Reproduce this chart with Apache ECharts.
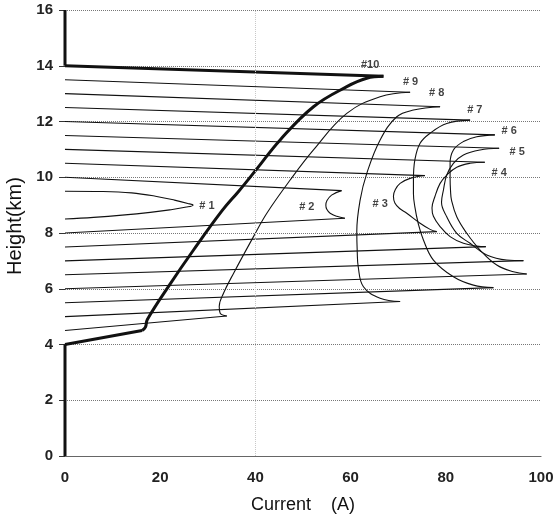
<!DOCTYPE html>
<html><head><meta charset="utf-8">
<script src="https://cdn.jsdelivr.net/npm/echarts@6/dist/echarts.min.js"></script>
<style>html,body{margin:0;padding:0;background:#fff}#c{width:557px;height:519px}</style>
</head><body><div id="c"></div>
<script>
// Start heights (x = 0) of upper and lower branches for curves #1..#10
const topStartY = [9.5, 10, 10.5, 11, 11.5, 12, 12.5, 13, 13.5, 14];
const botStartY = [8.5, 8, 7.5, 7, 6.5, 6, 5.5, 5, 4.5, 4];

// Curved parts (from upper tip to lower tip), [current A, height km]
const curve1 = [[0,9.5],[8,9.49],[14,9.44],[19,9.32],[23,9.18],[25.8,9.06],[26.9,9.0],[25.5,8.93],[22,8.83],[17.9,8.74],[12,8.64],[6,8.56],[0,8.5]];
const curve2 = [[58.1,9.52],[56,9.36],[55,9.15],[54.8,9.0],[55,8.85],[55.7,8.71],[57.1,8.6],[58.8,8.53]];
const curve3 = [[75.6,10.06],[72.5,9.96],[70.4,9.78],[69.4,9.56],[69.0,9.32],[69.3,9.08],[70.3,8.88],[71.8,8.71],[74.6,8.35],[76.7,8.13],[78.1,8.05]];
const curve4 = [[88.2,10.54],[85.1,10.5],[82.3,10.36],[80.2,10.08],[78.8,9.78],[77.7,9.3],[77.1,8.9],[77.4,8.6],[78.8,8.23],[80.9,7.87],[83.7,7.63],[86.5,7.53],[88.4,7.51]];
const curve5 = [[91.2,11.04],[87.2,10.98],[83.7,10.8],[81.6,10.5],[80.2,10.08],[79.5,9.54],[79.1,9.1],[80.2,8.58],[82.3,7.99],[85.1,7.63],[88.6,7.21],[92.8,7.03],[96.3,7.01]];
const curve6 = [[90.3,11.52],[86.5,11.45],[83.7,11.28],[81.6,10.98],[80.9,10.5],[80.9,10.0],[81.0,9.5],[81.2,9.18],[82.3,8.58],[84.4,7.99],[87.2,7.39],[90.7,6.85],[94.2,6.61],[97,6.53]];
const curve7 = [[85.1,12.05],[80.2,11.93],[76.7,11.58],[74.6,11.22],[73.5,10.62],[73.2,9.9],[73.2,9.42],[73.5,8.94],[74.2,8.35],[75.3,7.75],[77.4,7.03],[81.6,6.43],[85.8,6.13],[90,6.04]];
const curve8 = [[78.8,12.53],[73.2,12.41],[69.7,12.17],[66.2,11.34],[63.4,10.14],[62,9.18],[61.3,8.05],[61.4,7.3],[61.6,6.79],[62.7,6.07],[66.2,5.66],[70.4,5.54]];
const curve9 = [[72.5,13.05],[66.2,12.89],[59.2,12.29],[52.2,10.98],[47.3,9.9],[42.4,8.71],[39.6,7.87],[35.4,6.55],[33.3,5.84],[32.4,5.36],[32.6,5.12],[34,5.02]];
const curve10 = [[66.9,13.62],[63.4,13.55],[59.2,13.25],[52.2,12.53],[45.2,11.34],[40.3,10.3],[36.5,9.5],[33,8.8],[27,7.39],[22,6.15],[17.3,4.9],[16.9,4.62],[16.2,4.5]];
// thick vertical pieces along x = 0
const baseBottom = [[0,0],[0,4]];
const baseTop = [[0,14],[0,16]];

// Curve labels
const labelText = ['# 1','# 2','# 3','# 4','# 5','# 6','# 7','# 8','# 9','#10'];
const labelX = [29.8, 50.8, 66.2, 91.2, 95.0, 93.3, 86.1, 78.1, 72.6, 64.1];
const labelY = [8.97, 8.94, 9.04, 10.16, 10.9, 11.67, 12.41, 13.01, 13.43, 14.03];

const curves = [curve1,curve2,curve3,curve4,curve5,curve6,curve7,curve8,curve9,curve10];

const series = [];
curves.forEach((c, i) => {
  const thick = i === 9;
  const w = thick ? 3 : 1.1;
  const base = {type:'line', symbol:'none', silent:true, animation:false,
    lineStyle:{color:'#111', width:w}};
  if (i > 0) {
    series.push(Object.assign({}, base, {data:[[0, topStartY[i]], c[0]]}));
    series.push(Object.assign({}, base, {data:[c[c.length-1], [0, botStartY[i]]]}));
  }
  series.push(Object.assign({}, base, {data:c, smooth:0.4}));
});
const thickBase = {type:'line', symbol:'none', silent:true, animation:false, lineStyle:{color:'#111', width:3}};
series.push(Object.assign({}, thickBase, {data:baseBottom}));
series.push(Object.assign({}, thickBase, {data:baseTop}));

series.push({
  type:'scatter', symbolSize:0, silent:true, animation:false,
  data: labelText.map((t,i) => [labelX[i], labelY[i], t]),
  label:{show:true, position:'inside', formatter:p => p.data[2],
    fontSize:11, fontWeight:'bold', color:'#111', fontFamily:'Liberation Sans'},
  markLine:{silent:true, symbol:'none', label:{show:false},
    lineStyle:{type:'dotted', color:'#c8c8c8', width:1},
    data:[{xAxis:40}]}
});

const chart = echarts.init(document.getElementById('c'));
chart.setOption({
  backgroundColor:'#fff',
  animation:false,
  grid:{left:65, right:16, top:10, bottom:63, containLabel:false, outerBoundsMode:'none'},
  xAxis:{type:'value', min:0, max:100, interval:20,
    name:'Current    (A)', nameLocation:'middle', nameGap:40,
    nameTextStyle:{fontSize:18, color:'#111', fontFamily:'Liberation Sans'},
    axisLine:{show:true, lineStyle:{color:'#666', width:1.2}},
    axisTick:{show:false},
    axisLabel:{fontSize:15, fontWeight:'bold', color:'#222', margin:14, fontFamily:'Liberation Sans'},
    splitLine:{show:false}},
  yAxis:{type:'value', min:0, max:16, interval:2,
    name:'Height(km)', nameLocation:'middle', nameGap:40, nameRotate:90,
    nameTextStyle:{fontSize:20, color:'#111', fontFamily:'Liberation Sans', padding:[0,0,0,14]},
    axisLine:{show:false},
    axisTick:{show:true, length:6, lineStyle:{color:'#333'}},
    axisLabel:{fontSize:15, fontWeight:'bold', color:'#222', margin:12, fontFamily:'Liberation Sans'},
    splitLine:{show:true, lineStyle:{type:'dotted', color:'#777', width:1}}},
  series: series
});
</script></body></html>
